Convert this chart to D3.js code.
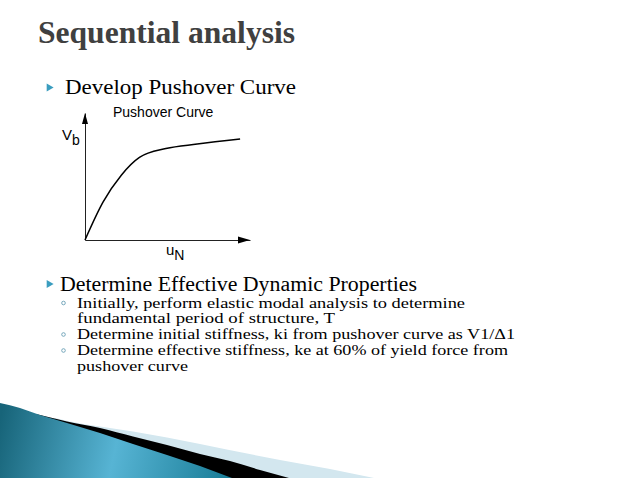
<!DOCTYPE html>
<html>
<head>
<meta charset="utf-8">
<script src="https://cdn.jsdelivr.net/npm/d3@7"></script>
<style>
body { margin: 0; background: #fff; }
svg { display: block; }
</style>
</head>
<body>
<script>
"use strict";

// pushover curve (displacement u_N, base shear V_b)
const curveU = [0, 1.1, 2.2, 3.3, 4.9, 6.8, 9.4];
const curveV = [0, 3.0, 5.1, 6.5, 7.2, 7.55, 7.95];

const slideTitle = "Sequential analysis";
const bullets = [
	{text: "Develop Pushover Curve", x: 65, y: 94, w: 231},
	{text: "Determine Effective Dynamic Properties", x: 60, y: 290.5, w: 357}
];
const subLines = [
	{text: "Initially, perform elastic modal analysis to determine", y: 307.5, w: 388, dot: true},
	{text: "fundamental period of structure, T", y: 323, w: 258, dot: false},
	{text: "Determine initial stiffness, ki from pushover curve as V1/\u03941", y: 339, w: 438, dot: true},
	{text: "Determine effective stiffness, ke at 60% of yield force from", y: 355, w: 431, dot: true},
	{text: "pushover curve", y: 371, w: 111, dot: false}
];

const W = 638, H = 478;
const svg = d3.select("body").append("svg")
	.attr("width", W)
	.attr("height", H);

const defs = svg.append("defs");
let grad = defs.append("linearGradient")
	.attr("id", "teal")
	.attr("gradientUnits", "userSpaceOnUse")
	.attr("x1", 0).attr("y1", 420).attr("x2", 232).attr("y2", 470);
grad.append("stop").attr("offset", "0").attr("stop-color", "#176479");
grad.append("stop").attr("offset", "0.5").attr("stop-color", "#57b4d4");
grad.append("stop").attr("offset", "1").attr("stop-color", "#187c96");

//bottom swoosh decoration: top edge is curved, then closed along the bottom
let edge = d3.line().curve(d3.curveMonotoneX);
function swoosh(pts)
{
	return edge(pts) + "L0,478Z";
}
let deco = svg.append("g");
deco.append("path")
	.attr("fill", "#d3e7ef")
	.attr("d", swoosh([[55, 418], [83, 424], [100, 426.5], [133, 431.5], [167, 437.5], [200, 444], [280, 460], [330, 469], [374, 478]]));
deco.append("path")
	.attr("fill", "#000")
	.attr("d", swoosh([[36, 414], [67, 421.5], [100, 428], [133, 436.5], [167, 445], [200, 454], [230, 461], [260, 470], [289, 478]]));
deco.append("path")
	.attr("fill", "url(#teal)")
	.attr("d", swoosh([[0, 403], [20, 408], [40, 415], [67, 423], [100, 433], [133, 444], [167, 455], [200, 466], [232, 478]]));

//title
svg.append("text")
	.attr("x", 38)
	.attr("y", 43)
	.attr("font-family", "Liberation Serif")
	.attr("font-weight", "bold")
	.attr("font-size", 32)
	.attr("fill", "#404040")
	.attr("textLength", 257)
	.attr("lengthAdjust", "spacingAndGlyphs")
	.text(slideTitle);

//bullets
let tri = d3.symbol().type(d3.symbolTriangle).size(28);
for (let b of bullets)
{
	svg.append("path")
		.attr("d", tri())
		.attr("fill", "#3a9dbf")
		.attr("transform", "translate(" + 49 + "," + (b.y - 6.5) + ") rotate(90)");
	svg.append("text")
		.attr("x", b.x)
		.attr("y", b.y)
		.attr("font-family", "Liberation Serif")
		.attr("font-size", 20)
		.attr("fill", "#000")
		.attr("textLength", b.w)
		.attr("lengthAdjust", "spacingAndGlyphs")
		.text(b.text);
}
for (let s of subLines)
{
	if (s.dot)
	{
		svg.append("circle")
			.attr("cx", 63.5)
			.attr("cy", s.y - 4.5)
			.attr("r", 1.8)
			.attr("fill", "none")
			.attr("stroke", "#6a9fb5")
			.attr("stroke-width", 0.9);
	}
	svg.append("text")
		.attr("x", 77)
		.attr("y", s.y)
		.attr("font-family", "Liberation Serif")
		.attr("font-size", 15.5)
		.attr("fill", "#000")
		.attr("textLength", s.w)
		.attr("lengthAdjust", "spacingAndGlyphs")
		.text(s.text);
}

//pushover chart
let x = d3.scaleLinear().domain([0, 10]).range([85, 250]);
let y = d3.scaleLinear().domain([0, 10]).range([240, 113]);
let chart = svg.append("g");

chart.append("g")
	.attr("transform", "translate(0," + y(0) + ")")
	.call(d3.axisBottom(x).ticks(0).tickSize(0).tickSizeOuter(0))
	.call(g => g.select(".domain").attr("stroke", "#222").attr("stroke-width", 1));
chart.append("g")
	.attr("transform", "translate(" + x(0) + ",0)")
	.call(d3.axisLeft(y).ticks(0).tickSize(0).tickSizeOuter(0))
	.call(g => g.select(".domain").attr("stroke", "#222").attr("stroke-width", 1));

//arrow heads
chart.append("path")
	.attr("fill", "#000")
	.attr("d", d3.line()([[x(10), y(0)], [x(10) - 12, y(0) - 3.5], [x(10) - 12, y(0) + 3.5]]) + "Z");
chart.append("path")
	.attr("fill", "#000")
	.attr("d", d3.line()([[x(0), y(10)], [x(0) - 3, y(10) + 11], [x(0) + 3, y(10) + 11]]) + "Z");

chart.append("path")
	.datum(d3.zip(curveU, curveV))
	.attr("fill", "none")
	.attr("stroke", "#000")
	.attr("stroke-width", 1.5)
	.attr("stroke-linejoin", "round")
	.attr("d", d3.line()
		.x(function(d) { return x(d[0]); })
		.y(function(d) { return y(d[1]); })
		.curve(d3.curveMonotoneX));

chart.append("text")
	.attr("x", 113)
	.attr("y", 117)
	.attr("font-family", "Liberation Sans")
	.attr("font-size", 14)
	.attr("fill", "#000")
	.text("Pushover Curve");

let vb = chart.append("text")
	.attr("x", 62)
	.attr("y", 140)
	.attr("font-family", "Liberation Sans")
	.attr("font-size", 15)
	.attr("fill", "#000");
vb.append("tspan").text("V");
vb.append("tspan").attr("dy", 5).attr("font-size", 14).text("b");

let un = chart.append("text")
	.attr("x", 166)
	.attr("y", 254.5)
	.attr("font-family", "Liberation Sans")
	.attr("font-size", 15)
	.attr("fill", "#000");
un.append("tspan").text("u");
un.append("tspan").attr("dy", 5.5).attr("font-size", 14).text("N");
</script>
</body>
</html>
